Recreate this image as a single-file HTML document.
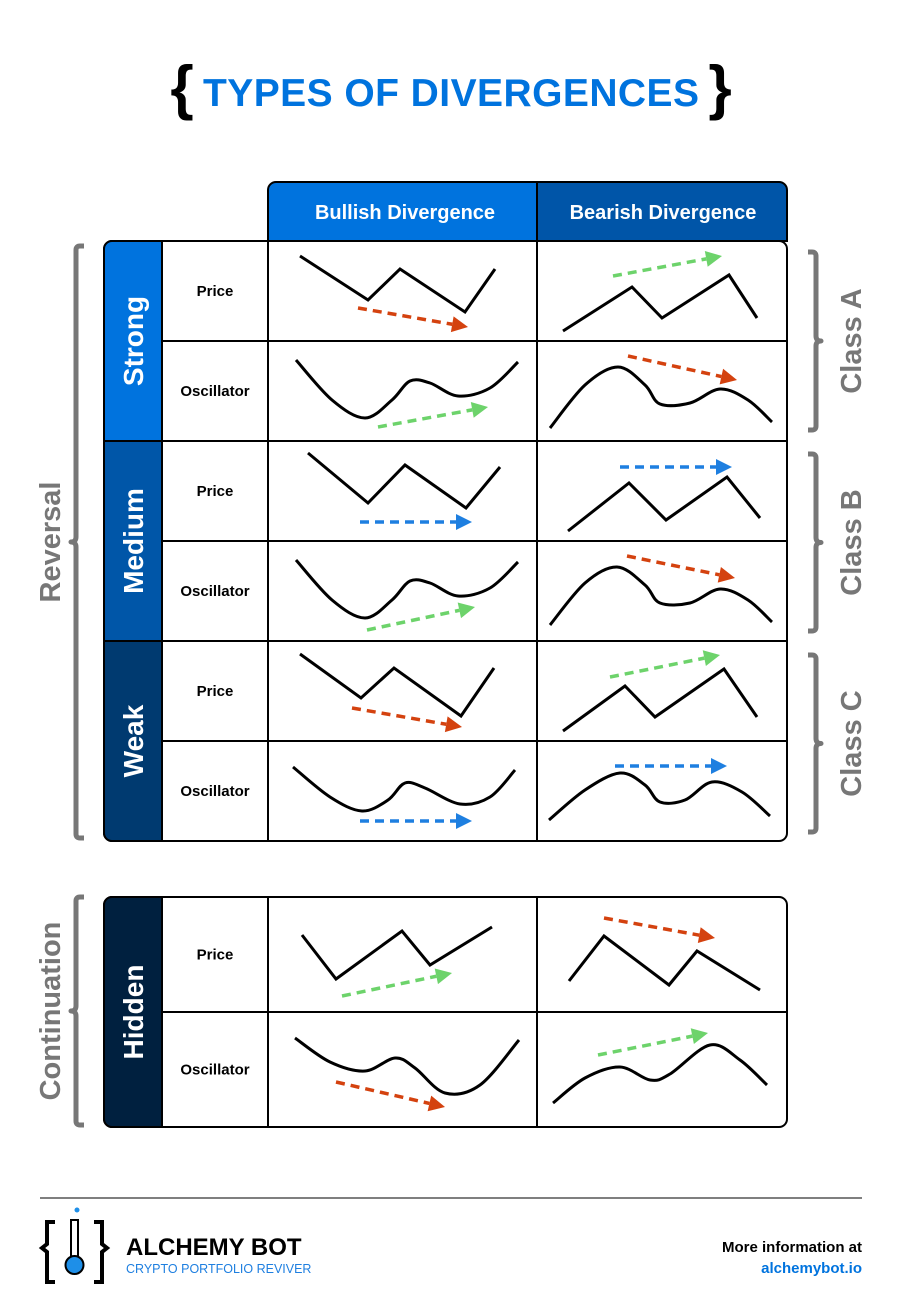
<!DOCTYPE html>
<html><head><meta charset="utf-8"><style>
body{margin:0;background:#fff;}
svg{display:block;font-family:"Liberation Sans",sans-serif;}
</style></head><body>
<svg id="s" width="900" height="1307" viewBox="0 0 900 1307">
<g>
<text x="182" y="108" font-size="60" font-weight="bold" fill="#000" text-anchor="middle">{</text>
<text x="451" y="106" font-size="39" font-weight="bold" fill="#0073de" text-anchor="middle" textLength="496">TYPES OF DIVERGENCES</text>
<text x="720" y="108" font-size="60" font-weight="bold" fill="#000" text-anchor="middle">}</text>
</g>
<g>
<path d="M268 241V190a8 8 0 0 1 8-8H537V241Z" fill="#0073de" stroke="#000" stroke-width="2"/>
<path d="M537 241V182H779a8 8 0 0 1 8 8V241Z" fill="#0055a8" stroke="#000" stroke-width="2"/>
<text x="405" y="219" font-size="20" font-weight="bold" fill="#fff" text-anchor="middle">Bullish Divergence</text>
<text x="663" y="219" font-size="20" font-weight="bold" fill="#fff" text-anchor="middle">Bearish Divergence</text>
</g>
<g id="tables"></g>
<g id="charts"></g>
<g id="brackets"></g>
<g>
<line x1="40" y1="1198" x2="862" y2="1198" stroke="#555" stroke-width="1.5"/>
<path d="M55 1222h-8v22l-5 4 5 4v30h8" fill="none" stroke="#000" stroke-width="4"/>
<path d="M94 1222h8v22l5 4-5 4v30h-8" fill="none" stroke="#000" stroke-width="4"/>
<rect x="71" y="1220" width="7" height="40" fill="#fff" stroke="#000" stroke-width="2"/>
<circle cx="74.5" cy="1265" r="9" fill="#1e8fe8" stroke="#000" stroke-width="2"/>
<circle cx="77" cy="1210" r="2.5" fill="#1e8fe8"/>
<text x="126" y="1255" font-size="24" font-weight="bold" fill="#000">ALCHEMY BOT</text>
<text x="126" y="1273" font-size="12.5" fill="#1e7fe0">CRYPTO PORTFOLIO REVIVER</text>
<text x="862" y="1252" font-size="15" font-weight="bold" fill="#000" text-anchor="end">More information at</text>
<text x="862" y="1273" font-size="15" font-weight="bold" fill="#0073de" text-anchor="end">alchemybot.io</text>
</g>
</svg>
<script>
const NS='http://www.w3.org/2000/svg';
const tables=document.getElementById('tables');
const charts=document.getElementById('charts');
const brackets=document.getElementById('brackets');
function mk(tag,attrs,parent){const e=document.createElementNS(NS,tag);for(const k in attrs)e.setAttribute(k,attrs[k]);parent.appendChild(e);return e;}

const groupNames=['Strong','Medium','Weak','Hidden'];
const groupColors=['#0073de','#0056a8','#003a70','#00203f'];
const groupTops=[241,441,641,897];
const groupRowH=[100,100,100,115];

function drawTable(y0,y1){
  const r=mk('rect',{x:104,y:y0,width:683,height:y1-y0,rx:8,fill:'#fff',stroke:'#000','stroke-width':2},tables);
  
  
}
drawTable(241,841);
drawTable(897,1127);
groupNames.forEach((n,i)=>{
  const t=groupTops[i],h=groupRowH[i]*2;
  const rad=8;
  const x0=104,x1=162,y0=t,y1=t+h;
  const tr=(i===0||i===3)?rad:0, br=(i===2||i===3)?rad:0;
  const d=`M${x1} ${y0}H${x0+tr}`+(tr?`a${tr} ${tr} 0 0 0 -${tr} ${tr}`:'')+`V${y1-br}`+(br?`a${br} ${br} 0 0 0 ${br} ${br}`:'')+`H${x1}Z`;
  const p=mk('path',{d:d,fill:groupColors[i],stroke:'#000','stroke-width':2},tables);
  
  
  const cy=t+h/2;
  const tx=mk('text',{x:0,y:0,'font-size':28,'font-weight':'bold',fill:'#fff','text-anchor':'middle',transform:`translate(143 ${cy}) rotate(-90)`},tables);
  tx.textContent=n;
  
  
  ['Price','Oscillator'].forEach((lab,j)=>{
    const ry=t+j*groupRowH[i];
    if(j===1){const l=mk('line',{x1:162,x2:787,y1:ry,y2:ry,stroke:'#000','stroke-width':2},tables);
      }
    const tt=mk('text',{x:215,y:ry+groupRowH[i]/2+5,'font-size':15,'font-weight':'bold',fill:'#000','text-anchor':'middle'},tables);
    tt.textContent=lab;
    
    
  });
  if(i===1||i===2){const l=mk('line',{x1:104,x2:787,y1:t,y2:t,stroke:'#000','stroke-width':2},tables);
    }
});
[[241,841],[897,1127]].forEach(([a,b])=>{
  [162,268,537].forEach(x=>{const l=mk('line',{x1:x,x2:x,y1:a,y2:b,stroke:'#000','stroke-width':2},tables);
    });
});

const lineNames=['strong-bull-price','strong-bear-price','strong-bull-osc','strong-bear-osc','medium-bull-price','medium-bear-price','medium-bull-osc','medium-bear-osc','weak-bull-price','weak-bear-price','weak-bull-osc','weak-bear-osc','hidden-bull-price','hidden-bear-price','hidden-bull-osc','hidden-bear-osc'];
const lineSmooth=[0,0,1,1,0,0,1,1,0,0,1,1,0,0,1,1];
const linePoints=[
 [[300,256],[368,300],[400,269],[465,312],[495,269]],
 [[563,331],[632,287],[662,318],[729,275],[757,318]],
 [[296,360],[332,400],[365,418],[392,400],[410,381],[430,383],[458,396],[490,388],[518,362]],
 [[550,428],[585,385],[618,367],[645,385],[660,404],[690,403],[720,389],[748,400],[772,422]],
 [[308,453],[368,503],[405,465],[466,508],[500,467]],
 [[568,531],[629,483],[666,520],[727,477],[760,518]],
 [[296,560],[332,600],[365,618],[392,600],[410,581],[430,583],[458,596],[490,588],[518,562]],
 [[550,625],[585,583],[617,567],[645,585],[660,603],[690,603],[720,589],[748,600],[772,622]],
 [[300,654],[361,698],[394,668],[461,716],[494,668]],
 [[563,731],[625,686],[655,717],[724,669],[757,717]],
 [[293,767],[330,797],[362,811],[388,800],[405,783],[425,788],[460,804],[490,797],[515,770]],
 [[549,820],[585,790],[620,773],[645,785],[660,802],[685,800],[712,782],[742,792],[770,816]],
 [[302,935],[336,979],[402,931],[430,965],[492,927]],
 [[569,981],[604,936],[669,985],[697,951],[760,990]],
 [[295,1038],[330,1062],[365,1071],[395,1058],[415,1068],[445,1093],[480,1085],[519,1040]],
 [[553,1103],[585,1078],[620,1067],[650,1080],[670,1074],[710,1045],[740,1060],[767,1085]]
];
const arrowColors=['#d4420f','#6dd36b','#6dd36b','#d4420f','#1e7fe0','#1e7fe0','#6dd36b','#d4420f','#d4420f','#6dd36b','#1e7fe0','#1e7fe0','#6dd36b','#d4420f','#d4420f','#6dd36b'];
const arrowStart=[[358,308],[613,276],[378,427],[628,356],[360,522],[620,467],[367,630],[627,556],[352,708],[610,677],[360,821],[615,766],[342,996],[604,918],[336,1082],[598,1055]];
const arrowEnd=[[468,327],[722,256],[488,407],[737,380],[472,522],[732,467],[475,607],[735,578],[462,727],[720,655],[472,821],[727,766],[452,973],[715,938],[445,1107],[708,1033]];

function smoothPath(p){
  let d=`M${p[0][0]} ${p[0][1]}`;
  for(let i=0;i<p.length-1;i++){
    const p0=p[i-1]||p[i],p1=p[i],p2=p[i+1],p3=p[i+2]||p2;
    const c1=[p1[0]+(p2[0]-p0[0])/6,p1[1]+(p2[1]-p0[1])/6];
    const c2=[p2[0]-(p3[0]-p1[0])/6,p2[1]-(p3[1]-p1[1])/6];
    d+=`C${c1[0]} ${c1[1]} ${c2[0]} ${c2[1]} ${p2[0]} ${p2[1]}`;
  }
  return d;
}
lineNames.forEach((n,i)=>{
  const pts=linePoints[i];
  const d=lineSmooth[i]?smoothPath(pts):'M'+pts.map(p=>p.join(' ')).join('L');
  const pe=mk('path',{d:d,fill:'none',stroke:'#000','stroke-width':3,'stroke-linejoin':'miter'},charts);
  
  
  const s=arrowStart[i],e=arrowEnd[i],c=arrowColors[i];
  const dx=e[0]-s[0],dy=e[1]-s[1],L=Math.hypot(dx,dy),ux=dx/L,uy=dy/L;
  const hx=e[0]-ux*16,hy=e[1]-uy*16;
  const sh=mk('line',{x1:s[0],y1:s[1],x2:hx,y2:hy,stroke:c,'stroke-width':3.5,'stroke-dasharray':'9 6'},charts);
  
  
  const hd=mk('polygon',{points:`${e[0]},${e[1]} ${hx-uy*8},${hy+ux*8} ${hx+uy*8},${hy-ux*8}`,fill:c},charts);
  
  
});

function bracket(x,y0,y1,s,name,label,lx){
  const m=(y0+y1)/2;
  const d=`M${x+8*s} ${y0} L${x+4*s} ${y0} Q${x} ${y0} ${x} ${y0+4} L${x} ${m-5} Q${x} ${m} ${x-5*s} ${m} Q${x} ${m} ${x} ${m+5} L${x} ${y1-4} Q${x} ${y1} ${x+4*s} ${y1} L${x+8*s} ${y1}`;
  const p=mk('path',{d:d,fill:'none',stroke:'#777','stroke-width':5,'stroke-linejoin':'round'},brackets);
  
  
  const t=mk('text',{x:0,y:0,'font-size':29,'font-weight':'bold',fill:'#777','text-anchor':'middle',transform:`translate(${lx} ${m}) rotate(-90)`},brackets);
  t.textContent=label;
  
  
}
bracket(76,246,838,1,'reversal','Reversal',60);
bracket(76,897,1125,1,'continuation','Continuation',60);
bracket(816,252,430,-1,'class-a','Class A',861);
bracket(816,454,631,-1,'class-b','Class B',861);
bracket(816,655,832,-1,'class-c','Class C',861);
</script>
</body></html>
